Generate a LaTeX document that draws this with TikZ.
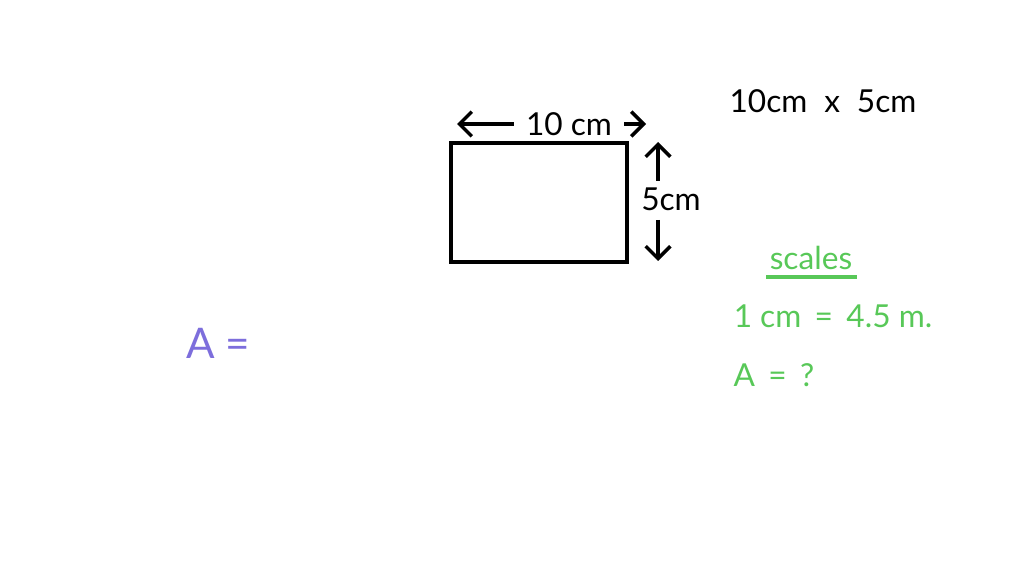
\documentclass[tikz,border=0pt]{standalone}
\usepackage{fontspec}
\setmainfont{Lato}
\usepackage{xcolor}
\usetikzlibrary{positioning, arrows.meta}

\definecolor{chalkgreen}{RGB}{88,200,88}
\definecolor{chalkpurple}{RGB}{125,110,220}

\tikzset{
    ink/.style={line width=1pt},
    dimarrow/.style={ink, -{Straight Barb[length=3.5pt, width=7pt]}},
    hand/.style={font=\fontsize{9}{10}\selectfont, inner sep=1pt},
}

\begin{document}
\begin{tikzpicture}[x=0.01cm, y=-0.01cm]
    \useasboundingbox (0,0) rectangle (1024,576);

    % the rectangle
    \draw[ink] (451,143) rectangle (627,262);

    % dimensions
    \node[hand] at (569,124) (W) {10 cm};
    \node[hand] at (671,199) (H) {5cm};
    \coordinate (Wl) at (457,124);
    \coordinate (Wr) at (646,124);
    \coordinate (Hu) at (658,181);
    \coordinate (Hd) at (658,220);
    \coordinate (Ht) at (658,142);
    \coordinate (Hb) at (658,261);

    \draw[dimarrow] (W.west) ++(-8,0) -- (Wl);
    \draw[dimarrow] (W.east) ++(8,0) -- (Wr);
    \draw[dimarrow] (Hu) -- (Ht);
    \draw[dimarrow] (Hd) -- (Hb);

    \node[hand] at (823,101) (size) {10cm \;x\; 5cm};

    % scale notes
    \node[hand, text=chalkgreen] at (811,258) (scales) {scales};
    \draw[chalkgreen, line width=1.2pt] (766,277) -- (857,277);
    \node[hand, text=chalkgreen] at (833,316) (ratio) {1 cm \,=\, 4.5 m.};
    \node[hand, text=chalkgreen] at (774,375) (ask) {A \,=\, ?};

    \node[font=\fontsize{12}{14}\selectfont, text=chalkpurple] at (218,343) (area) {A =};
\end{tikzpicture}
\end{document}
